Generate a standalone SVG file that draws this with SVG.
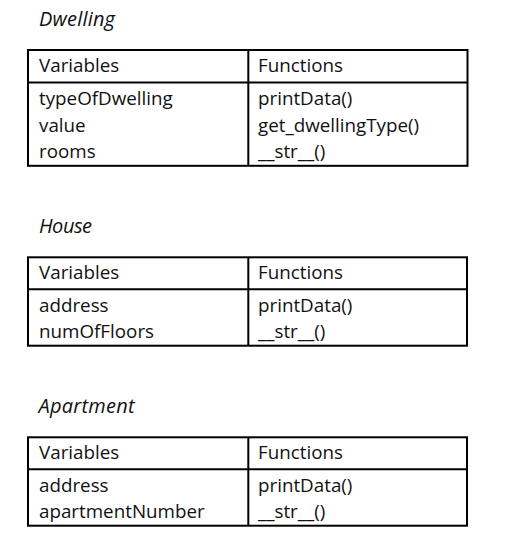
<svg xmlns="http://www.w3.org/2000/svg" width="532" height="544" viewBox="0 0 532 544">
<style>
text{font-family:"Open Sans","Liberation Sans",sans-serif;font-size:18.8px;fill:#111}
.title{font-style:italic;font-size:20px}
.tb{fill:none;stroke:#000;stroke-width:2}
.ln{stroke:#000;stroke-width:2}
</style>
<rect width="532" height="544" fill="#fff"/>
<g id="dwelling">
<text class="title" x="39" y="26" textLength="76">Dwelling</text>
<rect class="tb" x="28" y="50" width="439.5" height="115.8"/>
<line class="ln" x1="28" y1="82.5" x2="467.5" y2="82.5"/>
<line class="ln" x1="248.3" y1="50" x2="248.3" y2="165.8"/>
<text x="39" y="71.5">Variables</text>
<text x="258" y="71.5">Functions</text>
<text x="39" y="105">typeOfDwelling</text>
<text x="39" y="131.6">value</text>
<text x="39" y="158.2">rooms</text>
<text x="258" y="105">printData()</text>
<text x="258" y="131.6">get_dwellingType()</text>
<text x="258" y="158.2">__str__()</text>
</g>
<g id="house">
<text class="title" x="39" y="232.7" textLength="53">House</text>
<rect class="tb" x="28" y="257.3" width="439" height="88.4"/>
<line class="ln" x1="28" y1="289.3" x2="467" y2="289.3"/>
<line class="ln" x1="248.3" y1="257.3" x2="248.3" y2="345.7"/>
<text x="39" y="278.5">Variables</text>
<text x="258" y="278.5">Functions</text>
<text x="39" y="311.7">address</text>
<text x="39" y="338.3">numOfFloors</text>
<text x="258" y="311.7">printData()</text>
<text x="258" y="338.3">__str__()</text>
</g>
<g id="apartment">
<text class="title" x="38.5" y="412.7" textLength="96">Apartment</text>
<rect class="tb" x="28" y="437.3" width="439" height="88.4"/>
<line class="ln" x1="28" y1="469.3" x2="467" y2="469.3"/>
<line class="ln" x1="248.3" y1="437.3" x2="248.3" y2="525.7"/>
<text x="39" y="458.5">Variables</text>
<text x="258" y="458.5">Functions</text>
<text x="39" y="491.7">address</text>
<text x="39" y="518.3">apartmentNumber</text>
<text x="258" y="491.7">printData()</text>
<text x="258" y="518.3">__str__()</text>
</g>
<g id="connectors"></g>
</svg>
